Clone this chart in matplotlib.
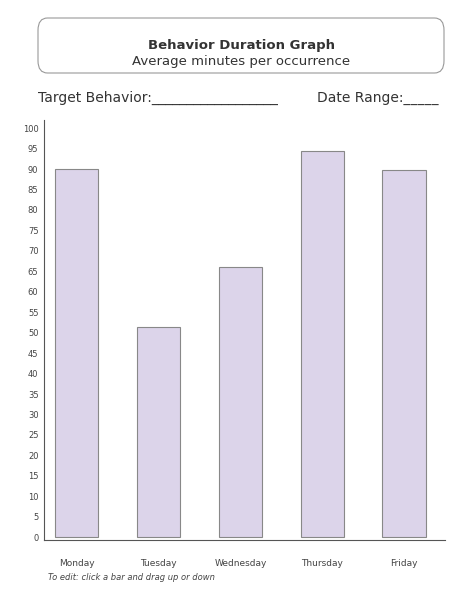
import matplotlib.pyplot as plt
from matplotlib.patches import FancyBboxPatch

days = ["Monday", "Tuesday", "Wednesday", "Thursday", "Friday"]
minutes = [90, 51.5, 66, 94.5, 89.7]
yticks = list(range(0, 101, 5))

fig = plt.figure(figsize=(4.74, 6.12), dpi=100)
fig.patch.set_facecolor("white")

# header box
box = FancyBboxPatch((38 / 474, 1 - 73 / 612), 406 / 474, 55 / 612,
                     boxstyle="round,pad=0,rounding_size=0.02",
                     transform=fig.transFigure, fill=False,
                     edgecolor="#999999", linewidth=0.8)
fig.patches.append(box)
fig.text(241 / 474, 1 - 45 / 612, "Behavior Duration Graph", ha="center",
         va="center", fontsize=9.5, fontweight="bold", color="#333333")
fig.text(241 / 474, 1 - 62 / 612, "Average minutes per occurrence", ha="center",
         va="center", fontsize=9.5, color="#333333")
fig.text(38 / 474, 1 - 98 / 612, "Target Behavior:__________________",
         ha="left", va="center", fontsize=10, color="#333333")
fig.text(317 / 474, 1 - 98 / 612, "Date Range:_____",
         ha="left", va="center", fontsize=10, color="#333333")

ax = fig.add_axes([44 / 474, 1 - 540 / 612, 401 / 474, 420 / 612])
x = range(len(days))
ax.bar(x, minutes, width=0.53, color="#dcd4ea", edgecolor="#888888", linewidth=0.8)
ax.set_xlim(-0.4, 4.5)
ax.set_ylim(-0.7, 102)
ax.set_yticks(yticks)
ax.set_yticklabels([str(t) for t in yticks], fontsize=6, color="#444444")
ax.set_xticks(list(x))
ax.set_xticklabels(days, fontsize=6.5, color="#444444")
ax.tick_params(axis="y", length=0, pad=4)
ax.tick_params(axis="x", length=0, pad=14)
for s in ["top", "right"]:
    ax.spines[s].set_visible(False)
ax.spines["left"].set_color("#555555")
ax.spines["bottom"].set_color("#555555")

fig.text(48 / 474, 1 - 577 / 612, "To edit: click a bar and drag up or down",
         ha="left", va="center", fontsize=6, style="italic", color="#444444")

fig.savefig("out.png", dpi=100)
